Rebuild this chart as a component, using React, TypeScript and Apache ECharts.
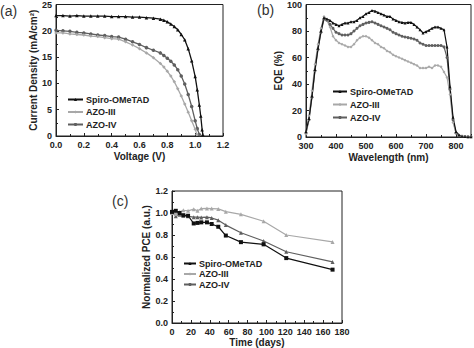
import React, { useEffect, useRef } from "react";
import * as echarts from "echarts";

const NAMES = ["Spiro-OMeTAD", "AZO-III", "AZO-IV"];
const COLORS = ["#111111", "#a8a8a8", "#5f5f5f"];

// (a) J-V curves
const jvSpiroV = [0, 0.05, 0.1, 0.15, 0.2, 0.25, 0.3, 0.35, 0.4, 0.45, 0.5, 0.55, 0.6, 0.65, 0.7, 0.75, 0.775, 0.8, 0.825, 0.85, 0.875, 0.9, 0.925, 0.95, 0.975, 1.0, 1.015, 1.03, 1.04, 1.05, 1.055];
const jvSpiroJ = [22.9, 22.9, 22.8, 22.9, 22.8, 22.8, 22.8, 22.8, 22.7, 22.7, 22.7, 22.6, 22.6, 22.5, 22.4, 22.2, 22.0, 21.7, 21.3, 20.8, 20.2, 19.3, 18.3, 16.6, 14.3, 11.3, 8.8, 5.9, 3.8, 1.2, 0.3];
const jvAzo3V = [0, 0.05, 0.1, 0.15, 0.2, 0.25, 0.3, 0.35, 0.4, 0.45, 0.5, 0.55, 0.6, 0.65, 0.7, 0.75, 0.775, 0.8, 0.825, 0.85, 0.875, 0.9, 0.925, 0.95, 0.975, 1.0, 1.012];
const jvAzo3J = [19.6, 19.6, 19.4, 19.3, 19.2, 19.0, 18.9, 18.7, 18.5, 18.4, 17.9, 17.3, 16.6, 15.8, 14.9, 13.8, 13.1, 12.3, 11.4, 10.3, 9.0, 7.6, 6.1, 4.5, 2.9, 1.3, 0.3];
const jvAzo4V = [0, 0.05, 0.1, 0.15, 0.2, 0.25, 0.3, 0.35, 0.4, 0.45, 0.5, 0.55, 0.6, 0.65, 0.7, 0.75, 0.775, 0.8, 0.825, 0.85, 0.875, 0.9, 0.925, 0.95, 0.975, 1.0, 1.015, 1.03];
const jvAzo4J = [20.1, 20.0, 19.9, 19.7, 19.6, 19.4, 19.2, 19.1, 18.9, 18.8, 18.4, 17.9, 17.4, 16.8, 16.3, 15.8, 15.3, 14.8, 14.2, 13.5, 12.6, 11.4, 9.9, 7.9, 5.6, 2.9, 1.4, 0.3];

// (b) EQE spectra
const wavelengths = [300, 310, 320, 330, 340, 350, 360, 370, 380, 390, 400, 410, 420, 430, 440, 450, 460, 470, 480, 490, 500, 510, 520, 530, 540, 550, 560, 570, 580, 590, 600, 610, 620, 630, 640, 650, 660, 670, 680, 690, 700, 710, 720, 730, 740, 750, 760, 770, 780, 790, 800, 810, 820, 830, 840, 850];
const eqeSpiro = [4, 14, 31, 51, 67, 80, 90, 89, 88, 86, 85, 84, 85, 86, 86, 87, 87, 88, 90, 91, 93, 94, 95.5, 95, 94, 93, 92, 91, 91, 89, 88, 87, 86.5, 86, 86.5, 86.5, 85, 83, 81, 78.5, 79.5, 80.5, 82, 83, 83, 82, 81, 68, 38, 15, 4, 1.5, 0.5, 0.3, 0.2, 0.2];
const eqeAzo3 = [2, 16, 35, 55, 70, 82, 91, 88, 83, 76, 73, 71, 70, 69, 68, 68, 70, 73, 75, 76, 76, 75, 73, 71, 70, 68, 67, 65, 64, 62, 61, 60, 59, 58, 57, 56, 55, 54, 52, 52, 52, 53, 52, 54, 54, 53, 49, 45, 32, 11, 3, 1, 0.5, 0.3, 0.2, 0.2];
const eqeAzo4 = [3, 13, 30, 50, 66, 79, 89, 88, 85, 82, 79, 78, 77, 77, 77, 78, 80, 82, 84, 85, 86, 86.5, 87, 86, 85, 84, 83, 82, 81, 79, 78, 77, 76, 75.5, 75, 74.5, 74, 73, 71, 70, 69, 69, 69, 69, 69, 69, 68, 60, 36, 13, 3, 1, 0.5, 0.3, 0.2, 0.2];

// (c) stability
const days = [0, 4, 8, 12, 17, 23, 27, 31, 37, 42, 49, 57, 73, 97, 121, 170];
const pceSpiro = [1.01, 1.02, 1.0, 0.98, 0.975, 0.905, 0.91, 0.915, 0.915, 0.9, 0.875, 0.795, 0.735, 0.715, 0.59, 0.485];
const pceAzo3 = [1.0, 0.99, 1.01, 1.025, 1.02, 1.035, 1.02, 1.04, 1.042, 1.04, 1.037, 1.012, 0.988, 0.925, 0.8, 0.737];
const pceAzo4 = [1.005, 0.97, 0.985, 0.975, 0.97, 0.962, 0.962, 0.96, 0.962, 0.955, 0.935, 0.89, 0.82, 0.745, 0.648, 0.555];

const FONT = "Liberation Sans";
const TXT = "#222";

const zip = (xs: number[], ys: number[]) => xs.map((x, i) => [x, ys[i]]);

function axisCommon(extra: any) {
  return {
    type: "value",
    axisLine: { show: true, onZero: false, lineStyle: { color: "#222", width: 1 } },
    axisTick: { show: true, inside: true, length: 3, lineStyle: { color: "#222" } },
    minorTick: { show: true, splitNumber: 2, length: 2, lineStyle: { color: "#222" } },
    splitLine: { show: false },
    axisLabel: { color: TXT, fontFamily: FONT, fontWeight: "bold", fontSize: 9, margin: 4 },
    nameLocation: "middle",
    nameTextStyle: { color: TXT, fontFamily: FONT, fontWeight: "bold", fontSize: 10 },
    ...extra,
  };
}

export default function App() {
  const ref = useRef<HTMLDivElement>(null);
  useEffect(() => {
    if (!ref.current) return;
    const chart = echarts.init(ref.current, null, { renderer: "svg" });
    const symA = ["triangle", "diamond", "circle"];
    const symB = ["triangle", "diamond", "circle"];
    const symC = ["rect", "triangle", "triangle"];
    const jv = [zip(jvSpiroV, jvSpiroJ), zip(jvAzo3V, jvAzo3J), zip(jvAzo4V, jvAzo4J)];
    const eqe = [zip(wavelengths, eqeSpiro), zip(wavelengths, eqeAzo3), zip(wavelengths, eqeAzo4)];
    const pce = [zip(days, pceSpiro), zip(days, pceAzo3), zip(days, pceAzo4)];
    const series: any[] = [];
    [2, 1, 0].forEach((i) => {
      series.push({
        type: "line", name: NAMES[i], xAxisIndex: 0, yAxisIndex: 0, data: jv[i],
        symbol: symA[i], symbolSize: 3.5, color: COLORS[i], lineStyle: { width: 1.3, color: COLORS[i] },
        itemStyle: { color: COLORS[i] },
      });
    });
    [2, 1, 0].forEach((i) => {
      series.push({
        type: "line", name: NAMES[i], xAxisIndex: 1, yAxisIndex: 1, data: eqe[i],
        symbol: symB[i], symbolSize: 3, color: COLORS[i], lineStyle: { width: 1.2, color: COLORS[i] },
        itemStyle: { color: COLORS[i] },
      });
    });
    [2, 1, 0].forEach((i) => {
      series.push({
        type: "line", name: NAMES[i], xAxisIndex: 2, yAxisIndex: 2, data: pce[i],
        symbol: symC[i], symbolSize: 4, color: COLORS[i], lineStyle: { width: 1.2, color: COLORS[i] },
        itemStyle: { color: COLORS[i] },
      });
    });
    const legendCommon = {
      orient: "vertical",
      padding: 0,
      itemHeight: 4,
      selectedMode: false,
      textStyle: { color: TXT, fontFamily: FONT, fontWeight: "bold", fontSize: 9, padding: [0, 0, 0, -2] },
      data: NAMES,
    };
    chart.setOption({
      animation: false,
      backgroundColor: "#ffffff",
      grid: [
        { left: 56, top: 4, width: 167, height: 132, show: true, borderColor: "#222", borderWidth: 1 },
        { left: 306, top: 4, width: 165, height: 133, show: true, borderColor: "#222", borderWidth: 1 },
        { left: 172, top: 191, width: 170, height: 132, show: true, borderColor: "#222", borderWidth: 1 },
      ],
      xAxis: [
        axisCommon({ gridIndex: 0, min: 0, max: 1.2, interval: 0.2, name: "Voltage (V)", nameGap: 15,
          axisLabel: { color: TXT, fontFamily: FONT, fontWeight: "bold", fontSize: 9, margin: 4, formatter: (v: number) => v.toFixed(1) } }),
        axisCommon({ gridIndex: 1, min: 300, max: 850, interval: 100, name: "Wavelength (nm)", nameGap: 15,
          axisLabel: { color: TXT, fontFamily: FONT, fontWeight: "bold", fontSize: 9, margin: 4, showMaxLabel: false } }),
        axisCommon({ gridIndex: 2, min: 0, max: 180, interval: 20, name: "Time (days)", nameGap: 14 }),
      ],
      yAxis: [
        axisCommon({ gridIndex: 0, min: 0, max: 25, interval: 5, name: "Current Density (mA/cm²)", nameGap: 14 }),
        axisCommon({ gridIndex: 1, min: 0, max: 100, interval: 20, name: "EQE (%)", nameGap: 23 }),
        axisCommon({ gridIndex: 2, min: 0, max: 1.2, interval: 0.2, name: "Normalized PCE (a.u.)", nameGap: 19,
          axisLabel: { color: TXT, fontFamily: FONT, fontWeight: "bold", fontSize: 9, margin: 4, formatter: (v: number) => v.toFixed(1) } }),
      ],
      legend: [
        { ...legendCommon, left: 67, top: 95, itemWidth: 15, itemGap: 3.5 },
        { ...legendCommon, left: 332, top: 87, itemWidth: 14, itemGap: 4 },
        { ...legendCommon, left: 183, top: 259, itemWidth: 12, itemGap: 1.5 },
      ],
      graphic: [
        { type: "text", left: 0, top: 4, style: { text: "(a)", fontFamily: FONT, fontSize: 14, fill: "#333" } },
        { type: "text", left: 257, top: 3, style: { text: "(b)", fontFamily: FONT, fontSize: 14, fill: "#333" } },
        { type: "text", left: 112, top: 194, style: { text: "(c)", fontFamily: FONT, fontSize: 14, fill: "#333" } },
      ],
      series,
    });
    return () => chart.dispose();
  }, []);
  return <div ref={ref} style={{ position: "fixed", left: 0, top: 0, width: 474, height: 348 }} />;
}
